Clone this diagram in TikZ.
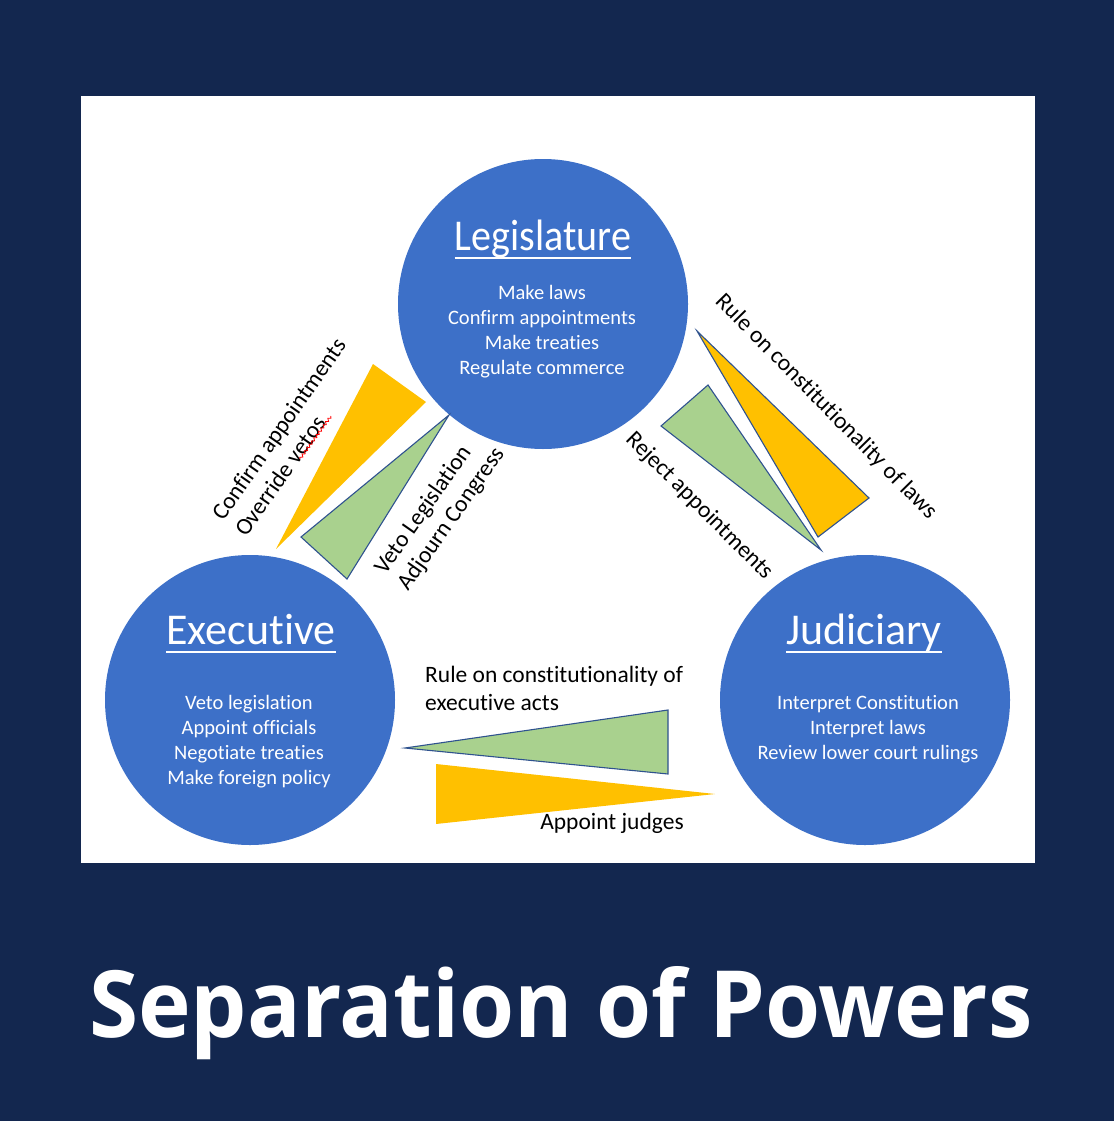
\documentclass[tikz,border=0pt]{standalone}
\usepackage{fontspec}
\setmainfont{Carlito}[Ligatures=NoCommon]
\newfontfamily\titlefont{Open Sans}
\usepackage{graphicx}
\usetikzlibrary{positioning,decorations.pathmorphing}

\definecolor{navy}{HTML}{13274F}
\definecolor{branchblue}{HTML}{3D70C8}
\definecolor{gold}{HTML}{FFC000}
\definecolor{leaf}{HTML}{A9D18E}
\definecolor{edgeblue}{HTML}{2F528F}

\begin{document}
\begin{tikzpicture}[x=1pt,y=-1pt,inner sep=0pt,
  branch/.style={circle,fill=branchblue,minimum size=290pt},
  head/.style={text=white,anchor=base,font=\fontsize{44}{48}\selectfont},
  rule/.style={white,line width=2.4pt},
  duties/.style={text=white,align=center,font=\fontsize{20.5}{25}\selectfont},
  check/.style={align=left,font=\fontsize{23.5}{28}\selectfont},
  power/.style={fill=gold},
  veto/.style={fill=leaf,draw=edgeblue,line width=1.1pt}]

  \fill[navy] (0,0) rectangle (1114,1121);
  \fill[white] (81,96) rectangle (1035,863);

  \node[branch] (L) at (543,304) {};
  \node[branch] (E) at (250,700) {};
  \node[branch] (J) at (865,700) {};

  \node[head] (Lh) at (543,250) {\scalebox{0.91}[1]{Legislature}};
  \node[head] (Eh) at (251,644) {Executive};
  \node[head] (Jh) at (864,644) {Judiciary};
  \foreach \h in {Lh,Eh,Jh}
    \draw[rule] ([yshift=-8pt]\h.base west) -- ([yshift=-8pt]\h.base east);

  \node[duties] (Ld) at (542,332) {Make laws\\Confirm appointments\\Make treaties\\Regulate commerce};
  \node[duties] (Ed) at (249,742) {Veto legislation\\Appoint officials\\Negotiate treaties\\Make foreign policy};
  \node[duties] (Jd) at (868,729) {Interpret Constitution\\Interpret laws\\Review lower court rulings};

  % checks between the branches
  \path[power] (373,364) -- (426,402) -- (276,549) -- cycle;
  \path[veto] (449,415) -- (301,537) -- (347,579) -- cycle;
  \path[power,draw=edgeblue,line width=1.1pt] (697,331) -- (869,498) -- (818,537) -- cycle;
  \path[veto] (708,385) -- (661,426) -- (821,550) -- cycle;
  \path[veto] (405,748) -- (668,710) -- (668,774) -- cycle;
  \path[power] (436,764) -- (436,824) -- (715,794) -- cycle;

  \node[check,rotate=55] (c1) at (290,437) {Confirm appointments\\Override vetos};
  \draw[red,line width=0.8pt,decorate,decoration={snake,amplitude=1.2pt,segment length=4pt}]
    (300,459) -- (331,416);
  \node[check,rotate=55] (c2) at (440,511) {Veto Legislation\\Adjourn Congress};
  \node[check,rotate=-45.5] (c3) at (826,407) {Rule on constitutionality of laws};
  \node[check,rotate=-45] (c4) at (699,506) {Reject appointments};
  \node[check,anchor=west] (c5) at (425,688) {Rule on constitutionality of\\executive acts};
  \node[check] (c6) at (612,823) {Appoint judges};

  \node[text=white,anchor=base west] (T) at (89,1037)
    {\resizebox{943pt}{71pt}{\titlefont\bfseries Separation of Powers}};
\end{tikzpicture}
\end{document}
